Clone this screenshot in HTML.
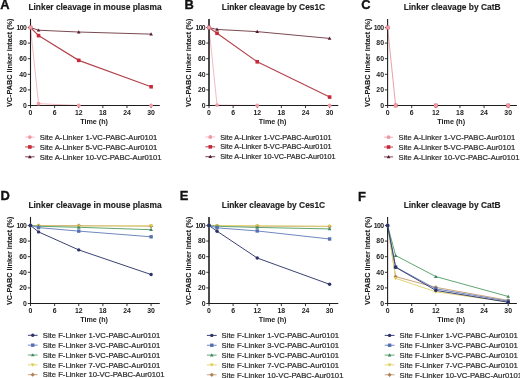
<!DOCTYPE html>
<html><head><meta charset="utf-8"><style>
html,body{margin:0;padding:0;background:#fff;}
body{width:520px;height:378px;overflow:hidden;}
svg{display:block;filter:blur(0.3px);}
text{font-family:'Liberation Sans', Arial, sans-serif;}
.pl{font-size:12.9px;font-weight:bold;fill:#111;stroke:#111;stroke-width:0.35px;}
.tt{font-size:8.4px;font-weight:bold;fill:#1e1e1e;stroke:#1e1e1e;stroke-width:0.15px;}
.yl{font-size:7.25px;font-weight:bold;fill:#222;stroke:#222;stroke-width:0.12px;}
.tk{font-size:6.9px;font-weight:bold;fill:#222;}
.xl{font-size:7.2px;font-weight:bold;fill:#222;}
.lg{font-size:7.6px;fill:#2e2e2e;stroke:#2e2e2e;stroke-width:0.22px;}
</style></head><body>
<svg width="520" height="378" viewBox="0 0 520 378">
<rect width="520" height="378" fill="#fff"/>
<text x="0.2" y="9.1" class="pl">A</text>
<text x="95.00" y="9.5" class="tt" text-anchor="middle">Linker cleavage in mouse plasma</text>
<text transform="translate(12.40,62.80) rotate(-90)" class="yl" text-anchor="middle">VC-PABC linker intact (%)</text>
<polyline points="30.50,27.50 38.54,30.23 78.74,32.02 151.10,34.13" fill="none" stroke="#7c4a54" stroke-width="1.0"/>
<polyline points="30.50,27.50 38.54,35.61 78.74,60.34 151.10,86.78" fill="none" stroke="#b4464f" stroke-width="1.2"/>
<polyline points="30.50,27.50 38.54,103.63 78.74,105.50 151.10,105.50" fill="none" stroke="#f2bcc3" stroke-width="1.0"/>
<line x1="30.50" y1="18.90" x2="30.50" y2="106.05" stroke="#1e1e1e" stroke-width="1.1"/>
<line x1="30.00" y1="105.50" x2="159.80" y2="105.50" stroke="#1e1e1e" stroke-width="1.1"/>
<line x1="27.80" y1="105.50" x2="30.50" y2="105.50" stroke="#1e1e1e" stroke-width="0.9"/>
<text x="26.90" y="107.70" class="tk" text-anchor="end">0</text>
<line x1="27.80" y1="89.90" x2="30.50" y2="89.90" stroke="#1e1e1e" stroke-width="0.9"/>
<text x="26.90" y="92.10" class="tk" text-anchor="end">20</text>
<line x1="27.80" y1="74.30" x2="30.50" y2="74.30" stroke="#1e1e1e" stroke-width="0.9"/>
<text x="26.90" y="76.50" class="tk" text-anchor="end">40</text>
<line x1="27.80" y1="58.70" x2="30.50" y2="58.70" stroke="#1e1e1e" stroke-width="0.9"/>
<text x="26.90" y="60.90" class="tk" text-anchor="end">60</text>
<line x1="27.80" y1="43.10" x2="30.50" y2="43.10" stroke="#1e1e1e" stroke-width="0.9"/>
<text x="26.90" y="45.30" class="tk" text-anchor="end">80</text>
<line x1="27.80" y1="27.50" x2="30.50" y2="27.50" stroke="#1e1e1e" stroke-width="0.9"/>
<text x="26.90" y="29.70" class="tk" text-anchor="end" textLength="10.3" lengthAdjust="spacing">100</text>
<line x1="30.50" y1="105.50" x2="30.50" y2="108.10" stroke="#1e1e1e" stroke-width="0.9"/>
<text x="30.50" y="114.85" class="tk" text-anchor="middle">0</text>
<line x1="54.62" y1="105.50" x2="54.62" y2="108.10" stroke="#1e1e1e" stroke-width="0.9"/>
<text x="54.62" y="114.85" class="tk" text-anchor="middle">6</text>
<line x1="78.74" y1="105.50" x2="78.74" y2="108.10" stroke="#1e1e1e" stroke-width="0.9"/>
<text x="78.74" y="114.85" class="tk" text-anchor="middle">12</text>
<line x1="102.86" y1="105.50" x2="102.86" y2="108.10" stroke="#1e1e1e" stroke-width="0.9"/>
<text x="102.86" y="114.85" class="tk" text-anchor="middle">18</text>
<line x1="126.98" y1="105.50" x2="126.98" y2="108.10" stroke="#1e1e1e" stroke-width="0.9"/>
<text x="126.98" y="114.85" class="tk" text-anchor="middle">24</text>
<line x1="151.10" y1="105.50" x2="151.10" y2="108.10" stroke="#1e1e1e" stroke-width="0.9"/>
<text x="151.10" y="114.85" class="tk" text-anchor="middle">30</text>
<text x="94.10" y="124.00" class="xl" text-anchor="middle">Time (h)</text>
<polygon points="30.50,25.66 32.34,28.86 28.66,28.86" fill="#5a1a2a"/>
<polygon points="38.54,28.39 40.38,31.59 36.70,31.59" fill="#5a1a2a"/>
<polygon points="78.74,30.18 80.58,33.38 76.90,33.38" fill="#5a1a2a"/>
<polygon points="151.10,32.29 152.94,35.49 149.26,35.49" fill="#5a1a2a"/>
<rect x="28.70" y="25.70" width="3.60" height="3.60" fill="#c8283a"/>
<rect x="36.74" y="33.81" width="3.60" height="3.60" fill="#c8283a"/>
<rect x="76.94" y="58.54" width="3.60" height="3.60" fill="#c8283a"/>
<rect x="149.30" y="84.98" width="3.60" height="3.60" fill="#c8283a"/>
<circle cx="30.50" cy="27.50" r="1.90" fill="#f09aa4"/>
<circle cx="38.54" cy="103.63" r="1.90" fill="#f09aa4"/>
<circle cx="78.74" cy="105.50" r="1.90" fill="#f09aa4"/>
<circle cx="151.10" cy="105.50" r="1.90" fill="#f09aa4"/>
<line x1="25.10" y1="137.10" x2="34.60" y2="137.10" stroke="#f2bcc3" stroke-width="1"/>
<circle cx="29.85" cy="137.10" r="1.90" fill="#f09aa4"/>
<text x="39.80" y="139.83" class="lg" style="font-size:7.68px">Site A-Linker 1-VC-PABC-Aur0101</text>
<line x1="25.10" y1="146.95" x2="34.60" y2="146.95" stroke="#b4464f" stroke-width="1"/>
<rect x="28.05" y="145.15" width="3.60" height="3.60" fill="#c8283a"/>
<text x="39.80" y="149.68" class="lg" style="font-size:7.68px">Site A-Linker 5-VC-PABC-Aur0101</text>
<line x1="25.10" y1="156.80" x2="34.60" y2="156.80" stroke="#7c4a54" stroke-width="1"/>
<polygon points="29.85,154.96 31.69,158.16 28.01,158.16" fill="#5a1a2a"/>
<text x="39.80" y="159.53" class="lg" style="font-size:7.68px">Site A-Linker 10-VC-PABC-Aur0101</text>
<text x="184.4" y="9.2" class="pl">B</text>
<text x="273.50" y="9.5" class="tt" text-anchor="middle">Linker cleavage by Ces1C</text>
<text transform="translate(190.90,62.80) rotate(-90)" class="yl" text-anchor="middle">VC-PABC linker intact (%)</text>
<polyline points="209.00,27.50 217.04,29.45 257.24,31.63 329.60,38.42" fill="none" stroke="#7c4a54" stroke-width="1.0"/>
<polyline points="209.00,27.50 217.04,33.27 257.24,61.82 329.60,97.08" fill="none" stroke="#b4464f" stroke-width="1.2"/>
<polyline points="209.00,27.50 217.04,105.11 257.24,105.50 329.60,105.50" fill="none" stroke="#f2bcc3" stroke-width="1.0"/>
<line x1="209.00" y1="18.90" x2="209.00" y2="106.05" stroke="#1e1e1e" stroke-width="1.6"/>
<line x1="208.50" y1="105.50" x2="338.30" y2="105.50" stroke="#1e1e1e" stroke-width="1.1"/>
<line x1="206.30" y1="105.50" x2="209.00" y2="105.50" stroke="#1e1e1e" stroke-width="0.9"/>
<text x="205.70" y="107.70" class="tk" text-anchor="end">0</text>
<line x1="206.30" y1="89.90" x2="209.00" y2="89.90" stroke="#1e1e1e" stroke-width="0.9"/>
<text x="205.70" y="92.10" class="tk" text-anchor="end">20</text>
<line x1="206.30" y1="74.30" x2="209.00" y2="74.30" stroke="#1e1e1e" stroke-width="0.9"/>
<text x="205.70" y="76.50" class="tk" text-anchor="end">40</text>
<line x1="206.30" y1="58.70" x2="209.00" y2="58.70" stroke="#1e1e1e" stroke-width="0.9"/>
<text x="205.70" y="60.90" class="tk" text-anchor="end">60</text>
<line x1="206.30" y1="43.10" x2="209.00" y2="43.10" stroke="#1e1e1e" stroke-width="0.9"/>
<text x="205.70" y="45.30" class="tk" text-anchor="end">80</text>
<line x1="206.30" y1="27.50" x2="209.00" y2="27.50" stroke="#1e1e1e" stroke-width="0.9"/>
<text x="205.70" y="29.70" class="tk" text-anchor="end" textLength="10.3" lengthAdjust="spacing">100</text>
<line x1="209.00" y1="105.50" x2="209.00" y2="108.10" stroke="#1e1e1e" stroke-width="0.9"/>
<text x="209.00" y="114.85" class="tk" text-anchor="middle">0</text>
<line x1="233.12" y1="105.50" x2="233.12" y2="108.10" stroke="#1e1e1e" stroke-width="0.9"/>
<text x="233.12" y="114.85" class="tk" text-anchor="middle">6</text>
<line x1="257.24" y1="105.50" x2="257.24" y2="108.10" stroke="#1e1e1e" stroke-width="0.9"/>
<text x="257.24" y="114.85" class="tk" text-anchor="middle">12</text>
<line x1="281.36" y1="105.50" x2="281.36" y2="108.10" stroke="#1e1e1e" stroke-width="0.9"/>
<text x="281.36" y="114.85" class="tk" text-anchor="middle">18</text>
<line x1="305.48" y1="105.50" x2="305.48" y2="108.10" stroke="#1e1e1e" stroke-width="0.9"/>
<text x="305.48" y="114.85" class="tk" text-anchor="middle">24</text>
<line x1="329.60" y1="105.50" x2="329.60" y2="108.10" stroke="#1e1e1e" stroke-width="0.9"/>
<text x="329.60" y="114.85" class="tk" text-anchor="middle">30</text>
<text x="272.60" y="124.00" class="xl" text-anchor="middle">Time (h)</text>
<polygon points="209.00,25.66 210.84,28.86 207.16,28.86" fill="#5a1a2a"/>
<polygon points="217.04,27.61 218.88,30.81 215.20,30.81" fill="#5a1a2a"/>
<polygon points="257.24,29.79 259.08,32.99 255.40,32.99" fill="#5a1a2a"/>
<polygon points="329.60,36.58 331.44,39.78 327.76,39.78" fill="#5a1a2a"/>
<rect x="207.20" y="25.70" width="3.60" height="3.60" fill="#c8283a"/>
<rect x="215.24" y="31.47" width="3.60" height="3.60" fill="#c8283a"/>
<rect x="255.44" y="60.02" width="3.60" height="3.60" fill="#c8283a"/>
<rect x="327.80" y="95.28" width="3.60" height="3.60" fill="#c8283a"/>
<circle cx="209.00" cy="27.50" r="1.90" fill="#f09aa4"/>
<circle cx="217.04" cy="105.11" r="1.90" fill="#f09aa4"/>
<circle cx="257.24" cy="105.50" r="1.90" fill="#f09aa4"/>
<circle cx="329.60" cy="105.50" r="1.90" fill="#f09aa4"/>
<line x1="205.40" y1="137.00" x2="215.20" y2="137.00" stroke="#f2bcc3" stroke-width="1"/>
<circle cx="210.30" cy="137.00" r="1.90" fill="#f09aa4"/>
<text x="220.20" y="139.58" class="lg" style="font-size:7.27px">Site A-Linker 1-VC-PABC-Aur0101</text>
<line x1="205.40" y1="146.85" x2="215.20" y2="146.85" stroke="#b4464f" stroke-width="1"/>
<rect x="208.50" y="145.05" width="3.60" height="3.60" fill="#c8283a"/>
<text x="220.20" y="149.43" class="lg" style="font-size:7.27px">Site A-Linker 5-VC-PABC-Aur0101</text>
<line x1="205.40" y1="156.70" x2="215.20" y2="156.70" stroke="#7c4a54" stroke-width="1"/>
<polygon points="210.30,154.86 212.14,158.06 208.46,158.06" fill="#5a1a2a"/>
<text x="220.20" y="159.28" class="lg" style="font-size:7.27px">Site A-Linker 10-VC-PABC-Aur0101</text>
<text x="361.3" y="9.2" class="pl">C</text>
<text x="452.10" y="9.5" class="tt" text-anchor="middle">Linker cleavage by CatB</text>
<text transform="translate(369.50,62.80) rotate(-90)" class="yl" text-anchor="middle">VC-PABC linker intact (%)</text>
<polyline points="387.60,27.50 395.64,105.50 435.84,105.50 508.20,105.50" fill="none" stroke="#e8a2ab" stroke-width="1.0"/>
<line x1="387.60" y1="18.90" x2="387.60" y2="106.05" stroke="#1e1e1e" stroke-width="1.1"/>
<line x1="387.10" y1="105.50" x2="516.90" y2="105.50" stroke="#1e1e1e" stroke-width="1.1"/>
<line x1="384.90" y1="105.50" x2="387.60" y2="105.50" stroke="#1e1e1e" stroke-width="0.9"/>
<text x="384.00" y="107.70" class="tk" text-anchor="end">0</text>
<line x1="384.90" y1="89.90" x2="387.60" y2="89.90" stroke="#1e1e1e" stroke-width="0.9"/>
<text x="384.00" y="92.10" class="tk" text-anchor="end">20</text>
<line x1="384.90" y1="74.30" x2="387.60" y2="74.30" stroke="#1e1e1e" stroke-width="0.9"/>
<text x="384.00" y="76.50" class="tk" text-anchor="end">40</text>
<line x1="384.90" y1="58.70" x2="387.60" y2="58.70" stroke="#1e1e1e" stroke-width="0.9"/>
<text x="384.00" y="60.90" class="tk" text-anchor="end">60</text>
<line x1="384.90" y1="43.10" x2="387.60" y2="43.10" stroke="#1e1e1e" stroke-width="0.9"/>
<text x="384.00" y="45.30" class="tk" text-anchor="end">80</text>
<line x1="384.90" y1="27.50" x2="387.60" y2="27.50" stroke="#1e1e1e" stroke-width="0.9"/>
<text x="384.00" y="29.70" class="tk" text-anchor="end" textLength="10.3" lengthAdjust="spacing">100</text>
<line x1="387.60" y1="105.50" x2="387.60" y2="108.10" stroke="#1e1e1e" stroke-width="0.9"/>
<text x="387.60" y="114.85" class="tk" text-anchor="middle">0</text>
<line x1="411.72" y1="105.50" x2="411.72" y2="108.10" stroke="#1e1e1e" stroke-width="0.9"/>
<text x="411.72" y="114.85" class="tk" text-anchor="middle">6</text>
<line x1="435.84" y1="105.50" x2="435.84" y2="108.10" stroke="#1e1e1e" stroke-width="0.9"/>
<text x="435.84" y="114.85" class="tk" text-anchor="middle">12</text>
<line x1="459.96" y1="105.50" x2="459.96" y2="108.10" stroke="#1e1e1e" stroke-width="0.9"/>
<text x="459.96" y="114.85" class="tk" text-anchor="middle">18</text>
<line x1="484.08" y1="105.50" x2="484.08" y2="108.10" stroke="#1e1e1e" stroke-width="0.9"/>
<text x="484.08" y="114.85" class="tk" text-anchor="middle">24</text>
<line x1="508.20" y1="105.50" x2="508.20" y2="108.10" stroke="#1e1e1e" stroke-width="0.9"/>
<text x="508.20" y="114.85" class="tk" text-anchor="middle">30</text>
<text x="451.20" y="124.00" class="xl" text-anchor="middle">Time (h)</text>
<polygon points="387.60,25.66 389.44,28.86 385.76,28.86" fill="#5a1a2a"/>
<polygon points="395.64,103.66 397.48,106.86 393.80,106.86" fill="#5a1a2a"/>
<polygon points="435.84,103.66 437.68,106.86 434.00,106.86" fill="#5a1a2a"/>
<polygon points="508.20,103.66 510.04,106.86 506.36,106.86" fill="#5a1a2a"/>
<rect x="385.80" y="25.70" width="3.60" height="3.60" fill="#c8283a"/>
<rect x="393.84" y="103.70" width="3.60" height="3.60" fill="#c8283a"/>
<rect x="434.04" y="103.70" width="3.60" height="3.60" fill="#c8283a"/>
<rect x="506.40" y="103.70" width="3.60" height="3.60" fill="#c8283a"/>
<circle cx="387.60" cy="27.50" r="1.90" fill="#f09aa4"/>
<circle cx="395.64" cy="105.50" r="1.90" fill="#f09aa4"/>
<circle cx="435.84" cy="105.50" r="1.90" fill="#f09aa4"/>
<circle cx="508.20" cy="105.50" r="1.90" fill="#f09aa4"/>
<line x1="384.00" y1="137.20" x2="393.10" y2="137.20" stroke="#f2bcc3" stroke-width="1"/>
<circle cx="388.55" cy="137.20" r="1.90" fill="#f09aa4"/>
<text x="398.60" y="139.91" class="lg" style="font-size:7.62px">Site A-Linker 1-VC-PABC-Aur0101</text>
<line x1="384.00" y1="147.05" x2="393.10" y2="147.05" stroke="#b4464f" stroke-width="1"/>
<rect x="386.75" y="145.25" width="3.60" height="3.60" fill="#c8283a"/>
<text x="398.60" y="149.76" class="lg" style="font-size:7.62px">Site A-Linker 5-VC-PABC-Aur0101</text>
<line x1="384.00" y1="156.90" x2="393.10" y2="156.90" stroke="#7c4a54" stroke-width="1"/>
<polygon points="388.55,155.06 390.39,158.26 386.71,158.26" fill="#5a1a2a"/>
<text x="398.60" y="159.61" class="lg" style="font-size:7.62px">Site A-Linker 10-VC-PABC-Aur0101</text>
<text x="0.5" y="200.2" class="pl">D</text>
<text x="95.00" y="207.9" class="tt" text-anchor="middle">Linker cleavage in mouse plasma</text>
<text transform="translate(12.40,260.80) rotate(-90)" class="yl" text-anchor="middle">VC-PABC linker intact (%)</text>
<polyline points="30.50,225.50 38.54,225.50 78.74,225.58 151.10,226.20" fill="none" stroke="#cba47e" stroke-width="1.0"/>
<polyline points="30.50,225.50 38.54,225.89 78.74,226.12 151.10,225.73" fill="none" stroke="#e2d676" stroke-width="1.0"/>
<polyline points="30.50,225.50 38.54,226.28 78.74,227.29 151.10,229.71" fill="none" stroke="#62a672" stroke-width="1.0"/>
<polyline points="30.50,225.50 38.54,227.61 78.74,231.12 151.10,236.81" fill="none" stroke="#7088c0" stroke-width="1.0"/>
<polyline points="30.50,225.50 38.54,231.90 78.74,249.91 151.10,274.56" fill="none" stroke="#3c4272" stroke-width="1.0"/>
<line x1="30.50" y1="216.90" x2="30.50" y2="304.05" stroke="#1e1e1e" stroke-width="1.1"/>
<line x1="30.00" y1="303.50" x2="159.80" y2="303.50" stroke="#1e1e1e" stroke-width="1.1"/>
<line x1="27.80" y1="303.50" x2="30.50" y2="303.50" stroke="#1e1e1e" stroke-width="0.9"/>
<text x="26.90" y="305.70" class="tk" text-anchor="end">0</text>
<line x1="27.80" y1="287.90" x2="30.50" y2="287.90" stroke="#1e1e1e" stroke-width="0.9"/>
<text x="26.90" y="290.10" class="tk" text-anchor="end">20</text>
<line x1="27.80" y1="272.30" x2="30.50" y2="272.30" stroke="#1e1e1e" stroke-width="0.9"/>
<text x="26.90" y="274.50" class="tk" text-anchor="end">40</text>
<line x1="27.80" y1="256.70" x2="30.50" y2="256.70" stroke="#1e1e1e" stroke-width="0.9"/>
<text x="26.90" y="258.90" class="tk" text-anchor="end">60</text>
<line x1="27.80" y1="241.10" x2="30.50" y2="241.10" stroke="#1e1e1e" stroke-width="0.9"/>
<text x="26.90" y="243.30" class="tk" text-anchor="end">80</text>
<line x1="27.80" y1="225.50" x2="30.50" y2="225.50" stroke="#1e1e1e" stroke-width="0.9"/>
<text x="26.90" y="227.70" class="tk" text-anchor="end" textLength="10.3" lengthAdjust="spacing">100</text>
<line x1="30.50" y1="303.50" x2="30.50" y2="306.10" stroke="#1e1e1e" stroke-width="0.9"/>
<text x="30.50" y="312.85" class="tk" text-anchor="middle">0</text>
<line x1="54.62" y1="303.50" x2="54.62" y2="306.10" stroke="#1e1e1e" stroke-width="0.9"/>
<text x="54.62" y="312.85" class="tk" text-anchor="middle">6</text>
<line x1="78.74" y1="303.50" x2="78.74" y2="306.10" stroke="#1e1e1e" stroke-width="0.9"/>
<text x="78.74" y="312.85" class="tk" text-anchor="middle">12</text>
<line x1="102.86" y1="303.50" x2="102.86" y2="306.10" stroke="#1e1e1e" stroke-width="0.9"/>
<text x="102.86" y="312.85" class="tk" text-anchor="middle">18</text>
<line x1="126.98" y1="303.50" x2="126.98" y2="306.10" stroke="#1e1e1e" stroke-width="0.9"/>
<text x="126.98" y="312.85" class="tk" text-anchor="middle">24</text>
<line x1="151.10" y1="303.50" x2="151.10" y2="306.10" stroke="#1e1e1e" stroke-width="0.9"/>
<text x="151.10" y="312.85" class="tk" text-anchor="middle">30</text>
<text x="94.10" y="322.00" class="xl" text-anchor="middle">Time (h)</text>
<polygon points="30.50,223.42 32.58,225.50 30.50,227.58 28.42,225.50" fill="#ad8058"/>
<polygon points="38.54,223.42 40.62,225.50 38.54,227.58 36.46,225.50" fill="#ad8058"/>
<polygon points="78.74,223.50 80.82,225.58 78.74,227.66 76.66,225.58" fill="#ad8058"/>
<polygon points="151.10,224.12 153.18,226.20 151.10,228.28 149.02,226.20" fill="#ad8058"/>
<polygon points="30.50,227.34 32.34,224.14 28.66,224.14" fill="#dccd48"/>
<polygon points="38.54,227.73 40.38,224.53 36.70,224.53" fill="#dccd48"/>
<polygon points="78.74,227.96 80.58,224.76 76.90,224.76" fill="#dccd48"/>
<polygon points="151.10,227.57 152.94,224.37 149.26,224.37" fill="#dccd48"/>
<polygon points="30.50,223.66 32.34,226.86 28.66,226.86" fill="#3f8462"/>
<polygon points="38.54,224.44 40.38,227.64 36.70,227.64" fill="#3f8462"/>
<polygon points="78.74,225.45 80.58,228.65 76.90,228.65" fill="#3f8462"/>
<polygon points="151.10,227.87 152.94,231.07 149.26,231.07" fill="#3f8462"/>
<rect x="28.80" y="223.80" width="3.40" height="3.40" fill="#5470b2"/>
<rect x="36.84" y="225.91" width="3.40" height="3.40" fill="#5470b2"/>
<rect x="77.04" y="229.42" width="3.40" height="3.40" fill="#5470b2"/>
<rect x="149.40" y="235.11" width="3.40" height="3.40" fill="#5470b2"/>
<circle cx="30.50" cy="225.50" r="1.70" fill="#2c3168"/>
<circle cx="38.54" cy="231.90" r="1.70" fill="#2c3168"/>
<circle cx="78.74" cy="249.91" r="1.70" fill="#2c3168"/>
<circle cx="151.10" cy="274.56" r="1.70" fill="#2c3168"/>
<line x1="27.90" y1="335.30" x2="37.60" y2="335.30" stroke="#3c4272" stroke-width="1"/>
<circle cx="32.75" cy="335.30" r="1.70" fill="#2c3168"/>
<text x="42.80" y="338.03" class="lg" style="font-size:7.68px">Site F-Linker 1-VC-PABC-Aur0101</text>
<line x1="27.90" y1="345.15" x2="37.60" y2="345.15" stroke="#7088c0" stroke-width="1"/>
<rect x="31.05" y="343.45" width="3.40" height="3.40" fill="#5470b2"/>
<text x="42.80" y="347.88" class="lg" style="font-size:7.68px">Site F-Linker 3-VC-PABC-Aur0101</text>
<line x1="27.90" y1="355.00" x2="37.60" y2="355.00" stroke="#62a672" stroke-width="1"/>
<polygon points="32.75,353.16 34.59,356.36 30.91,356.36" fill="#3f8462"/>
<text x="42.80" y="357.73" class="lg" style="font-size:7.68px">Site F-Linker 5-VC-PABC-Aur0101</text>
<line x1="27.90" y1="364.85" x2="37.60" y2="364.85" stroke="#e2d676" stroke-width="1"/>
<polygon points="32.75,366.69 34.59,363.49 30.91,363.49" fill="#dccd48"/>
<text x="42.80" y="367.58" class="lg" style="font-size:7.68px">Site F-Linker 7-VC-PABC-Aur0101</text>
<line x1="27.90" y1="374.70" x2="37.60" y2="374.70" stroke="#cba47e" stroke-width="1"/>
<polygon points="32.75,372.62 34.83,374.70 32.75,376.78 30.67,374.70" fill="#ad8058"/>
<text x="42.80" y="377.43" class="lg" style="font-size:7.68px">Site F-Linker 10-VC-PABC-Aur0101</text>
<text x="179.8" y="200.3" class="pl">E</text>
<text x="273.50" y="207.9" class="tt" text-anchor="middle">Linker cleavage by Ces1C</text>
<text transform="translate(190.90,260.80) rotate(-90)" class="yl" text-anchor="middle">VC-PABC linker intact (%)</text>
<polyline points="209.00,225.50 217.04,225.81 257.24,226.12 329.60,226.59" fill="none" stroke="#cba47e" stroke-width="1.0"/>
<polyline points="209.00,225.50 217.04,225.50 257.24,225.81 329.60,226.20" fill="none" stroke="#e2d676" stroke-width="1.0"/>
<polyline points="209.00,225.50 217.04,226.28 257.24,227.45 329.60,228.93" fill="none" stroke="#62a672" stroke-width="1.0"/>
<polyline points="209.00,225.50 217.04,227.84 257.24,230.96 329.60,238.99" fill="none" stroke="#7088c0" stroke-width="1.0"/>
<polyline points="209.00,225.50 217.04,231.19 257.24,258.03 329.60,284.31" fill="none" stroke="#3c4272" stroke-width="1.0"/>
<line x1="209.00" y1="216.90" x2="209.00" y2="304.05" stroke="#1e1e1e" stroke-width="1.6"/>
<line x1="208.50" y1="303.50" x2="338.30" y2="303.50" stroke="#1e1e1e" stroke-width="1.1"/>
<line x1="206.30" y1="303.50" x2="209.00" y2="303.50" stroke="#1e1e1e" stroke-width="0.9"/>
<text x="205.70" y="305.70" class="tk" text-anchor="end">0</text>
<line x1="206.30" y1="287.90" x2="209.00" y2="287.90" stroke="#1e1e1e" stroke-width="0.9"/>
<text x="205.70" y="290.10" class="tk" text-anchor="end">20</text>
<line x1="206.30" y1="272.30" x2="209.00" y2="272.30" stroke="#1e1e1e" stroke-width="0.9"/>
<text x="205.70" y="274.50" class="tk" text-anchor="end">40</text>
<line x1="206.30" y1="256.70" x2="209.00" y2="256.70" stroke="#1e1e1e" stroke-width="0.9"/>
<text x="205.70" y="258.90" class="tk" text-anchor="end">60</text>
<line x1="206.30" y1="241.10" x2="209.00" y2="241.10" stroke="#1e1e1e" stroke-width="0.9"/>
<text x="205.70" y="243.30" class="tk" text-anchor="end">80</text>
<line x1="206.30" y1="225.50" x2="209.00" y2="225.50" stroke="#1e1e1e" stroke-width="0.9"/>
<text x="205.70" y="227.70" class="tk" text-anchor="end" textLength="10.3" lengthAdjust="spacing">100</text>
<line x1="209.00" y1="303.50" x2="209.00" y2="306.10" stroke="#1e1e1e" stroke-width="0.9"/>
<text x="209.00" y="312.85" class="tk" text-anchor="middle">0</text>
<line x1="233.12" y1="303.50" x2="233.12" y2="306.10" stroke="#1e1e1e" stroke-width="0.9"/>
<text x="233.12" y="312.85" class="tk" text-anchor="middle">6</text>
<line x1="257.24" y1="303.50" x2="257.24" y2="306.10" stroke="#1e1e1e" stroke-width="0.9"/>
<text x="257.24" y="312.85" class="tk" text-anchor="middle">12</text>
<line x1="281.36" y1="303.50" x2="281.36" y2="306.10" stroke="#1e1e1e" stroke-width="0.9"/>
<text x="281.36" y="312.85" class="tk" text-anchor="middle">18</text>
<line x1="305.48" y1="303.50" x2="305.48" y2="306.10" stroke="#1e1e1e" stroke-width="0.9"/>
<text x="305.48" y="312.85" class="tk" text-anchor="middle">24</text>
<line x1="329.60" y1="303.50" x2="329.60" y2="306.10" stroke="#1e1e1e" stroke-width="0.9"/>
<text x="329.60" y="312.85" class="tk" text-anchor="middle">30</text>
<text x="272.60" y="322.00" class="xl" text-anchor="middle">Time (h)</text>
<polygon points="209.00,223.42 211.08,225.50 209.00,227.58 206.92,225.50" fill="#ad8058"/>
<polygon points="217.04,223.73 219.12,225.81 217.04,227.89 214.96,225.81" fill="#ad8058"/>
<polygon points="257.24,224.04 259.32,226.12 257.24,228.20 255.16,226.12" fill="#ad8058"/>
<polygon points="329.60,224.51 331.68,226.59 329.60,228.67 327.52,226.59" fill="#ad8058"/>
<polygon points="209.00,227.34 210.84,224.14 207.16,224.14" fill="#dccd48"/>
<polygon points="217.04,227.34 218.88,224.14 215.20,224.14" fill="#dccd48"/>
<polygon points="257.24,227.65 259.08,224.45 255.40,224.45" fill="#dccd48"/>
<polygon points="329.60,228.04 331.44,224.84 327.76,224.84" fill="#dccd48"/>
<polygon points="209.00,223.66 210.84,226.86 207.16,226.86" fill="#3f8462"/>
<polygon points="217.04,224.44 218.88,227.64 215.20,227.64" fill="#3f8462"/>
<polygon points="257.24,225.61 259.08,228.81 255.40,228.81" fill="#3f8462"/>
<polygon points="329.60,227.09 331.44,230.29 327.76,230.29" fill="#3f8462"/>
<rect x="207.30" y="223.80" width="3.40" height="3.40" fill="#5470b2"/>
<rect x="215.34" y="226.14" width="3.40" height="3.40" fill="#5470b2"/>
<rect x="255.54" y="229.26" width="3.40" height="3.40" fill="#5470b2"/>
<rect x="327.90" y="237.29" width="3.40" height="3.40" fill="#5470b2"/>
<circle cx="209.00" cy="225.50" r="1.70" fill="#2c3168"/>
<circle cx="217.04" cy="231.19" r="1.70" fill="#2c3168"/>
<circle cx="257.24" cy="258.03" r="1.70" fill="#2c3168"/>
<circle cx="329.60" cy="284.31" r="1.70" fill="#2c3168"/>
<line x1="206.90" y1="335.40" x2="216.70" y2="335.40" stroke="#3c4272" stroke-width="1"/>
<circle cx="211.80" cy="335.40" r="1.70" fill="#2c3168"/>
<text x="221.60" y="338.13" class="lg" style="font-size:7.68px">Site F-Linker 1-VC-PABC-Aur0101</text>
<line x1="206.90" y1="345.25" x2="216.70" y2="345.25" stroke="#7088c0" stroke-width="1"/>
<rect x="210.10" y="343.55" width="3.40" height="3.40" fill="#5470b2"/>
<text x="221.60" y="347.98" class="lg" style="font-size:7.68px">Site F-Linker 3-VC-PABC-Aur0101</text>
<line x1="206.90" y1="355.10" x2="216.70" y2="355.10" stroke="#62a672" stroke-width="1"/>
<polygon points="211.80,353.26 213.64,356.46 209.96,356.46" fill="#3f8462"/>
<text x="221.60" y="357.83" class="lg" style="font-size:7.68px">Site F-Linker 5-VC-PABC-Aur0101</text>
<line x1="206.90" y1="364.95" x2="216.70" y2="364.95" stroke="#e2d676" stroke-width="1"/>
<polygon points="211.80,366.79 213.64,363.59 209.96,363.59" fill="#dccd48"/>
<text x="221.60" y="367.68" class="lg" style="font-size:7.68px">Site F-Linker 7-VC-PABC-Aur0101</text>
<line x1="206.90" y1="374.80" x2="216.70" y2="374.80" stroke="#cba47e" stroke-width="1"/>
<polygon points="211.80,372.72 213.88,374.80 211.80,376.88 209.72,374.80" fill="#ad8058"/>
<text x="221.60" y="377.53" class="lg" style="font-size:7.68px">Site F-Linker 10-VC-PABC-Aur0101</text>
<text x="358.0" y="200.6" class="pl">F</text>
<text x="452.10" y="207.9" class="tt" text-anchor="middle">Linker cleavage by CatB</text>
<text transform="translate(369.50,260.80) rotate(-90)" class="yl" text-anchor="middle">VC-PABC linker intact (%)</text>
<polyline points="387.60,225.50 395.64,276.67 435.84,287.35 508.20,300.38" fill="none" stroke="#cba47e" stroke-width="1.0"/>
<polyline points="387.60,225.50 395.64,278.31 435.84,291.80 508.20,301.94" fill="none" stroke="#e2d676" stroke-width="1.0"/>
<polyline points="387.60,225.50 395.64,255.53 435.84,276.59 508.20,296.48" fill="none" stroke="#62a672" stroke-width="1.0"/>
<polyline points="387.60,225.50 395.64,267.00 435.84,288.84 508.20,301.16" fill="none" stroke="#7088c0" stroke-width="1.0"/>
<polyline points="387.60,225.50 395.64,267.23 435.84,290.40 508.20,302.25" fill="none" stroke="#3c4272" stroke-width="1.0"/>
<line x1="387.60" y1="216.90" x2="387.60" y2="304.05" stroke="#1e1e1e" stroke-width="1.1"/>
<line x1="387.10" y1="303.50" x2="516.90" y2="303.50" stroke="#1e1e1e" stroke-width="1.1"/>
<line x1="384.90" y1="303.50" x2="387.60" y2="303.50" stroke="#1e1e1e" stroke-width="0.9"/>
<text x="384.00" y="305.70" class="tk" text-anchor="end">0</text>
<line x1="384.90" y1="287.90" x2="387.60" y2="287.90" stroke="#1e1e1e" stroke-width="0.9"/>
<text x="384.00" y="290.10" class="tk" text-anchor="end">20</text>
<line x1="384.90" y1="272.30" x2="387.60" y2="272.30" stroke="#1e1e1e" stroke-width="0.9"/>
<text x="384.00" y="274.50" class="tk" text-anchor="end">40</text>
<line x1="384.90" y1="256.70" x2="387.60" y2="256.70" stroke="#1e1e1e" stroke-width="0.9"/>
<text x="384.00" y="258.90" class="tk" text-anchor="end">60</text>
<line x1="384.90" y1="241.10" x2="387.60" y2="241.10" stroke="#1e1e1e" stroke-width="0.9"/>
<text x="384.00" y="243.30" class="tk" text-anchor="end">80</text>
<line x1="384.90" y1="225.50" x2="387.60" y2="225.50" stroke="#1e1e1e" stroke-width="0.9"/>
<text x="384.00" y="227.70" class="tk" text-anchor="end" textLength="10.3" lengthAdjust="spacing">100</text>
<line x1="387.60" y1="303.50" x2="387.60" y2="306.10" stroke="#1e1e1e" stroke-width="0.9"/>
<text x="387.60" y="312.85" class="tk" text-anchor="middle">0</text>
<line x1="411.72" y1="303.50" x2="411.72" y2="306.10" stroke="#1e1e1e" stroke-width="0.9"/>
<text x="411.72" y="312.85" class="tk" text-anchor="middle">6</text>
<line x1="435.84" y1="303.50" x2="435.84" y2="306.10" stroke="#1e1e1e" stroke-width="0.9"/>
<text x="435.84" y="312.85" class="tk" text-anchor="middle">12</text>
<line x1="459.96" y1="303.50" x2="459.96" y2="306.10" stroke="#1e1e1e" stroke-width="0.9"/>
<text x="459.96" y="312.85" class="tk" text-anchor="middle">18</text>
<line x1="484.08" y1="303.50" x2="484.08" y2="306.10" stroke="#1e1e1e" stroke-width="0.9"/>
<text x="484.08" y="312.85" class="tk" text-anchor="middle">24</text>
<line x1="508.20" y1="303.50" x2="508.20" y2="306.10" stroke="#1e1e1e" stroke-width="0.9"/>
<text x="508.20" y="312.85" class="tk" text-anchor="middle">30</text>
<text x="451.20" y="322.00" class="xl" text-anchor="middle">Time (h)</text>
<polygon points="387.60,223.42 389.68,225.50 387.60,227.58 385.52,225.50" fill="#ad8058"/>
<polygon points="395.64,274.59 397.72,276.67 395.64,278.75 393.56,276.67" fill="#ad8058"/>
<polygon points="435.84,285.27 437.92,287.35 435.84,289.43 433.76,287.35" fill="#ad8058"/>
<polygon points="508.20,298.30 510.28,300.38 508.20,302.46 506.12,300.38" fill="#ad8058"/>
<polygon points="387.60,227.34 389.44,224.14 385.76,224.14" fill="#dccd48"/>
<polygon points="395.64,280.15 397.48,276.95 393.80,276.95" fill="#dccd48"/>
<polygon points="435.84,293.64 437.68,290.44 434.00,290.44" fill="#dccd48"/>
<polygon points="508.20,303.78 510.04,300.58 506.36,300.58" fill="#dccd48"/>
<polygon points="387.60,223.66 389.44,226.86 385.76,226.86" fill="#3f8462"/>
<polygon points="395.64,253.69 397.48,256.89 393.80,256.89" fill="#3f8462"/>
<polygon points="435.84,274.75 437.68,277.95 434.00,277.95" fill="#3f8462"/>
<polygon points="508.20,294.64 510.04,297.84 506.36,297.84" fill="#3f8462"/>
<rect x="385.90" y="223.80" width="3.40" height="3.40" fill="#5470b2"/>
<rect x="393.94" y="265.30" width="3.40" height="3.40" fill="#5470b2"/>
<rect x="434.14" y="287.14" width="3.40" height="3.40" fill="#5470b2"/>
<rect x="506.50" y="299.46" width="3.40" height="3.40" fill="#5470b2"/>
<circle cx="387.60" cy="225.50" r="1.70" fill="#2c3168"/>
<circle cx="395.64" cy="267.23" r="1.70" fill="#2c3168"/>
<circle cx="435.84" cy="290.40" r="1.70" fill="#2c3168"/>
<circle cx="508.20" cy="302.25" r="1.70" fill="#2c3168"/>
<line x1="384.70" y1="335.40" x2="394.50" y2="335.40" stroke="#3c4272" stroke-width="1"/>
<circle cx="389.60" cy="335.40" r="1.70" fill="#2c3168"/>
<text x="399.60" y="338.14" class="lg" style="font-size:7.72px">Site F-Linker 1-VC-PABC-Aur0101</text>
<line x1="384.70" y1="345.25" x2="394.50" y2="345.25" stroke="#7088c0" stroke-width="1"/>
<rect x="387.90" y="343.55" width="3.40" height="3.40" fill="#5470b2"/>
<text x="399.60" y="347.99" class="lg" style="font-size:7.72px">Site F-Linker 3-VC-PABC-Aur0101</text>
<line x1="384.70" y1="355.10" x2="394.50" y2="355.10" stroke="#62a672" stroke-width="1"/>
<polygon points="389.60,353.26 391.44,356.46 387.76,356.46" fill="#3f8462"/>
<text x="399.60" y="357.84" class="lg" style="font-size:7.72px">Site F-Linker 5-VC-PABC-Aur0101</text>
<line x1="384.70" y1="364.95" x2="394.50" y2="364.95" stroke="#e2d676" stroke-width="1"/>
<polygon points="389.60,366.79 391.44,363.59 387.76,363.59" fill="#dccd48"/>
<text x="399.60" y="367.69" class="lg" style="font-size:7.72px">Site F-Linker 7-VC-PABC-Aur0101</text>
<line x1="384.70" y1="374.80" x2="394.50" y2="374.80" stroke="#cba47e" stroke-width="1"/>
<polygon points="389.60,372.72 391.68,374.80 389.60,376.88 387.52,374.80" fill="#ad8058"/>
<text x="399.60" y="377.54" class="lg" style="font-size:7.72px">Site F-Linker 10-VC-PABC-Aur0101</text>
</svg>
</body></html>
